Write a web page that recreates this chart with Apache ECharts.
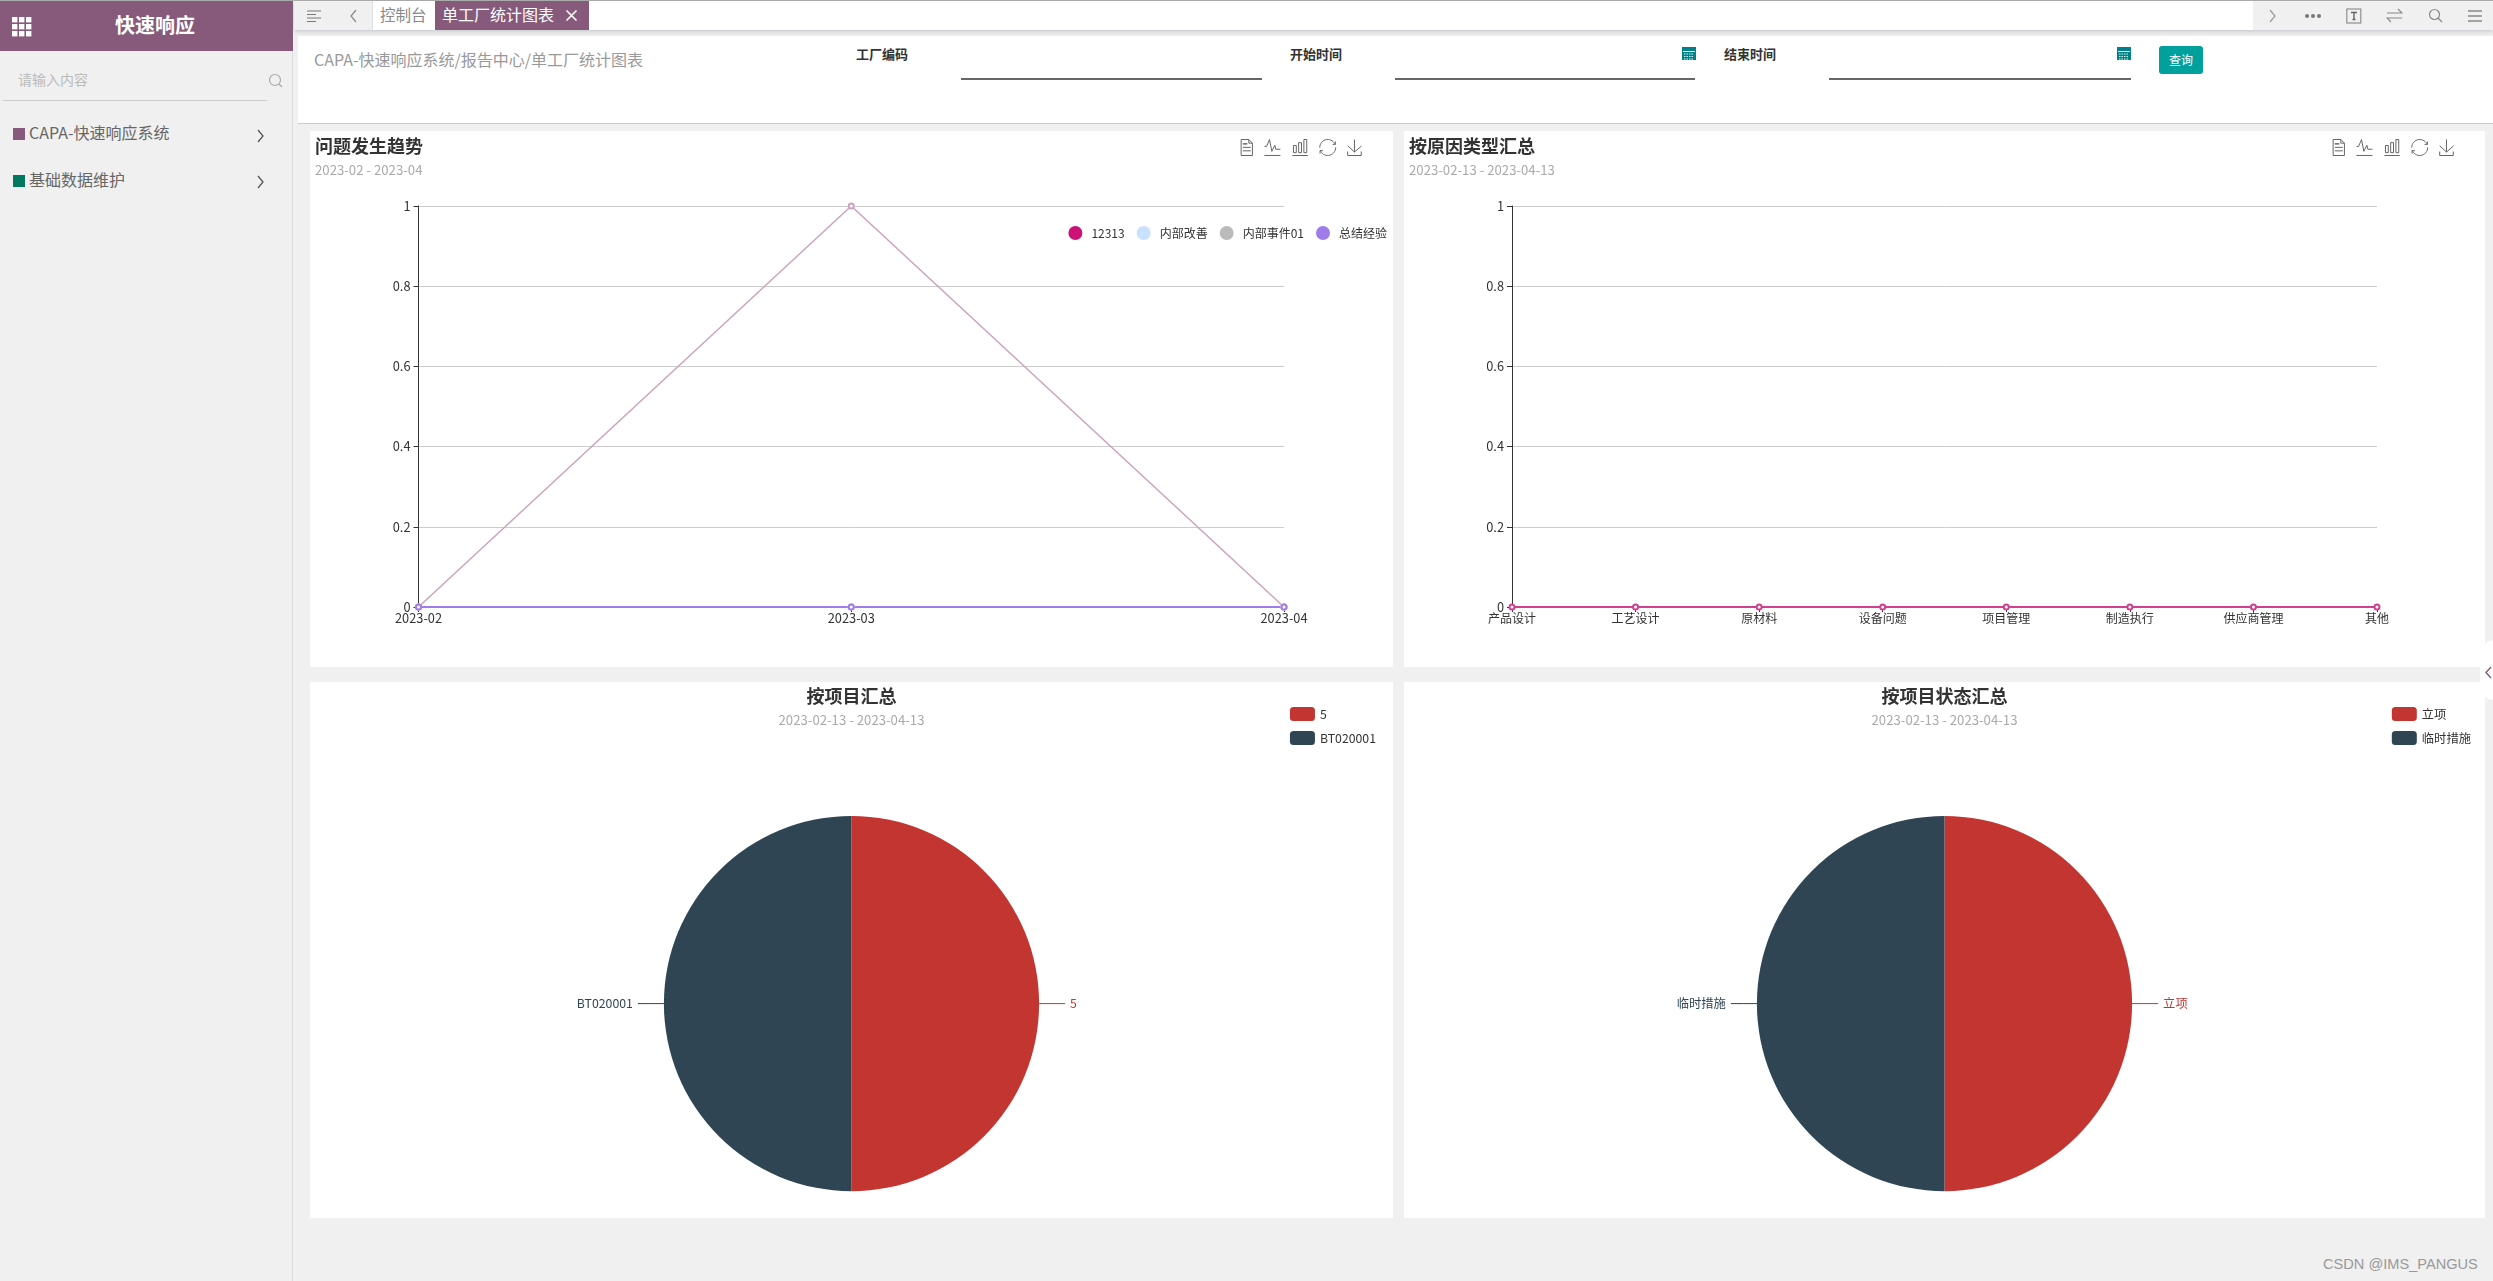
<!DOCTYPE html>
<html lang="zh"><head><meta charset="utf-8"><title>单工厂统计图表</title>
<script src="https://cdn.jsdelivr.net/npm/echarts@6/dist/echarts.min.js"></script>
<style>
html,body{margin:0;padding:0;width:2493px;height:1281px;overflow:hidden;background:#f0f0f0;font-family:"Noto Sans CJK SC","Noto Sans",sans-serif;}
.a{position:absolute;box-sizing:border-box;white-space:nowrap;}
.chart{position:absolute;background:#fff;}
.btn{position:absolute;top:1px;height:29px;background:#f0f0f0;border-right:1px solid #dde1e6;display:flex;align-items:center;justify-content:center;}
svg{display:block;}
</style></head><body>
<div class="a" style="left:0;top:0;width:2493px;height:1px;background:#aaa;z-index:5"></div>
<!-- sidebar -->
<div class="a" style="left:0;top:0;width:293px;height:1281px;background:#f0f0f0;border-right:1px solid #ddd;"></div>
<div class="a" style="left:0;top:1px;width:293px;height:50px;background:#875A7B;"></div>
<svg class="a" style="left:12px;top:17px" width="20" height="20" fill="#fff"><rect x="0" y="0" width="5.4" height="5.4"/><rect x="7" y="0" width="5.4" height="5.4"/><rect x="14" y="0" width="5.4" height="5.4"/><rect x="0" y="7" width="5.4" height="5.4"/><rect x="7" y="7" width="5.4" height="5.4"/><rect x="14" y="7" width="5.4" height="5.4"/><rect x="0" y="14" width="5.4" height="5.4"/><rect x="7" y="14" width="5.4" height="5.4"/><rect x="14" y="14" width="5.4" height="5.4"/></svg>
<div class="a" style="left:115px;top:10px;width:78px;font-size:20px;line-height:30px;font-weight:700;color:#fff;">快速响应</div>
<div class="a" style="left:18px;top:69px;font-size:14px;line-height:20px;color:#bbb;">请输入内容</div>
<svg class="a" style="left:268px;top:73px" width="15" height="15" fill="none" stroke="#aaa" stroke-width="1.2"><circle cx="7" cy="7" r="5.5"/><path d="M11 11l3 3"/></svg>
<div class="a" style="left:3px;top:100px;width:264px;height:1px;background:#ccc;"></div>
<div class="a" style="left:13px;top:128px;width:12px;height:12px;background:#875A7B;"></div>
<div class="a" style="left:29px;top:120px;font-size:16px;line-height:24px;color:#666;">CAPA-快速响应系统</div>
<svg class="a" style="left:256px;top:129px" width="9" height="14" fill="none" stroke="#555" stroke-width="1.3"><path d="M2 1l5 6-5 6"/></svg>
<div class="a" style="left:13px;top:175px;width:12px;height:12px;background:#00785F;"></div>
<div class="a" style="left:29px;top:167px;font-size:16px;line-height:24px;color:#666;">基础数据维护</div>
<svg class="a" style="left:256px;top:175px" width="9" height="14" fill="none" stroke="#555" stroke-width="1.3"><path d="M2 1l5 6-5 6"/></svg>
<!-- tab bar -->
<div class="a" style="left:294px;top:1px;width:2199px;height:29px;background:#fff;box-shadow:0 1px 5px rgba(120,130,140,.45);"></div>
<div class="btn" style="left:294px;width:40px;"><svg width="16" height="14" stroke="#777" stroke-width="1.2"><path d="M1 2h14M1 5.5h9M1 9h14M1 12.5h9"/></svg></div>
<div class="btn" style="left:334px;width:38px;"><svg width="9" height="14" fill="none" stroke="#888" stroke-width="1.2"><path d="M7 1L2 7l5 6"/></svg></div>
<div class="a" style="left:380px;top:2px;font-size:15.5px;line-height:25px;color:#888;">控制台</div>
<div class="a" style="left:435px;top:1px;width:154px;height:29px;background:#875A7B;"></div>
<div class="a" style="left:442px;top:2px;font-size:16px;line-height:25px;color:#fff;">单工厂统计图表</div>
<svg class="a" style="left:565px;top:9px;" width="13" height="13" stroke="#fff" stroke-width="1.6"><path d="M1.5 1.5l10 10M11.5 1.5l-10 10"/></svg>
<div class="btn" style="left:2253px;width:39px;"><svg width="9" height="14" fill="none" stroke="#999" stroke-width="1.2"><path d="M2 1l5 6-5 6"/></svg></div>
<div class="btn" style="left:2292px;width:41px;"><svg width="18" height="6" fill="#777"><circle cx="3" cy="3" r="2"/><circle cx="9" cy="3" r="2"/><circle cx="15" cy="3" r="2"/></svg></div>
<div class="btn" style="left:2333px;width:41px;"><svg width="16" height="16" fill="none" stroke="#888" stroke-width="1.1"><rect x=".8" y="1" width="14" height="14"/><path d="M5 4.5h6M8 4.5v7M6.5 11.5h3" stroke="#666" stroke-width="1.4"/></svg></div>
<div class="btn" style="left:2374px;width:41px;"><svg width="17" height="15" fill="none" stroke="#888" stroke-width="1.2"><path d="M1 5h15l-4-4M16 10H1l4 4"/></svg></div>
<div class="btn" style="left:2415px;width:41px;"><svg width="15" height="15" fill="none" stroke="#888" stroke-width="1.2"><circle cx="6.5" cy="6.5" r="5"/><path d="M10 10l4 4"/></svg></div>
<div class="btn" style="left:2456px;width:37px;border-right:0;"><svg width="16" height="14" stroke="#888" stroke-width="1.3"><path d="M1 2h14M1 7h14M1 12h14"/></svg></div>
<!-- filter panel -->
<div class="a" style="left:298px;top:36px;width:2195px;height:88px;background:#fff;border-bottom:1px solid #ccc;"></div>
<div class="a" style="left:314px;top:47px;font-size:16px;line-height:24px;color:#999;">CAPA-快速响应系统/报告中心/单工厂统计图表</div>
<div class="a" style="left:856px;top:44px;font-size:13px;line-height:20px;font-weight:700;color:#333;">工厂编码</div>
<div class="a" style="left:961px;top:78px;width:301px;height:2px;background:#666;"></div>
<div class="a" style="left:1290px;top:44px;font-size:13px;line-height:20px;font-weight:700;color:#333;">开始时间</div>
<div class="a" style="left:1395px;top:78px;width:300px;height:2px;background:#666;"></div>
<svg class="a" style="left:1682px;top:46px" width="14" height="14"><rect width="14" height="14" y="1" fill="#00808A"/><path d="M1 5.5h12" stroke="#fff"/><path d="M2 8h10M2 10.5h10M2 13h10" stroke="#cfe" stroke-dasharray="1.5 1"/></svg>
<div class="a" style="left:1724px;top:44px;font-size:13px;line-height:20px;font-weight:700;color:#333;">结束时间</div>
<div class="a" style="left:1829px;top:78px;width:302px;height:2px;background:#666;"></div>
<svg class="a" style="left:2117px;top:46px" width="14" height="14"><rect width="14" height="14" y="1" fill="#00808A"/><path d="M1 5.5h12" stroke="#fff"/><path d="M2 8h10M2 10.5h10M2 13h10" stroke="#cfe" stroke-dasharray="1.5 1"/></svg>
<div class="a" style="left:2159px;top:46px;width:44px;height:28px;background:#00A09D;border-radius:3px;color:#fff;font-size:12px;line-height:28px;text-align:center;">查询</div>
<!-- charts -->
<div class="chart" id="c1" style="left:310px;top:131px;width:1083px;height:536px;"></div>
<div class="chart" id="c2" style="left:1404px;top:131px;width:1081px;height:536px;"></div>
<div class="chart" id="c3" style="left:310px;top:682px;width:1083px;height:536px;"></div>
<div class="chart" id="c4" style="left:1404px;top:682px;width:1081px;height:536px;"></div>
<!-- side handle -->
<div class="a" style="left:2480px;top:640px;width:30px;height:60px;background:#fff;border-radius:14px 0 0 14px;"></div>
<svg class="a" style="left:2485px;top:666px" width="7" height="13" fill="none" stroke="#875A7B" stroke-width="1.4"><path d="M6 1L1 6.5l5 5.5"/></svg>
<div class="a" style="left:2323px;top:1254px;font-family:'Liberation Sans',Arial,sans-serif;font-size:14.6px;line-height:20px;color:#999;">CSDN @IMS_PANGUS</div>
<script>
const FONT = '"Noto Sans CJK SC","Noto Sans",sans-serif';

const trendMonths = ['2023-02', '2023-03', '2023-04'];
const trendNames = ['12313', '内部改善', '内部事件01', '总结经验'];
const trendLegendColors = ['#CC1177', '#C9E0FF', '#BBBBBB', '#A07CEB'];
const trendLineColors = ['#CCA3BC', '#C9E0FF', '#BBBBBB', '#A07CEB'];
const trend12313 = [0, 1, 0];
const trendInternal = [0, 0, 0];
const trendEvent = [0, 0, 0];
const trendSummary = [0, 0, 0];

const causeCategories = ['产品设计', '工艺设计', '原材料', '设备问题', '项目管理', '制造执行', '供应商管理', '其他'];
const causeValues = [0, 0, 0, 0, 0, 0, 0, 0];

const projectNames = ['5', 'BT020001'];
const projectValues = [1, 1];
const statusNames = ['立项', '临时措施'];
const statusValues = [1, 1];

const pieColors = ['#C23531', '#2F4554'];

function toolbox() {
  return {
    right: 14, top: -9, itemSize: 16, itemGap: 7,
    iconStyle: { borderColor: '#666', color: 'none' },
    feature: {
      dataView: {},
      magicType: { type: ['line', 'bar'] },
      restore: {},
      saveAsImage: {}
    }
  };
}
function titleLeft(text, sub) {
  return { left: 0, top: 1, text, subtext: sub,
    textStyle: { fontSize: 18, fontWeight: 'bold', color: '#333', fontFamily: FONT },
    subtextStyle: { fontSize: 13.2, color: '#aaa', fontFamily: FONT }, itemGap: 8 };
}
function titleCenter(text, sub) {
  return { left: 'center', top: 0, text, subtext: sub,
    textStyle: { fontSize: 18, fontWeight: 'bold', color: '#333', fontFamily: FONT },
    subtextStyle: { fontSize: 13.2, color: '#aaa', fontFamily: FONT }, itemGap: 8 };
}
function axes(cats, xSize) {
  return {
    xAxis: { type: 'category', boundaryGap: false, data: cats,
      axisLine: { lineStyle: { color: '#333' } }, axisTick: { show: true, lineStyle: { color: '#333' } },
      axisLabel: { color: '#333', fontSize: xSize, fontFamily: FONT, interval: 0, margin: 5 }, splitLine: { show: false } },
    yAxis: { type: 'value', min: 0, max: 1, interval: 0.2,
      axisLine: { show: true, lineStyle: { color: '#333' } }, axisTick: { show: true, lineStyle: { color: '#333' } },
      axisLabel: { color: '#333', fontSize: 12.8, fontFamily: FONT }, splitLine: { lineStyle: { color: '#ccc' } } }
  };
}
function lineSeries(name, data, color, width) {
  return { name, type: 'line', data, symbol: 'emptyCircle', symbolSize: 5,
    itemStyle: { color }, lineStyle: { color, width }, animation: false };
}
function pieOption(title, names, values, legendRight) {
  return {
    animation: false, color: pieColors,
    title: titleCenter(title, '2023-02-13 - 2023-04-13'),
    legend: { orient: 'vertical', right: legendRight, top: 20, itemWidth: 25, itemHeight: 14, itemGap: 10,
      data: names, textStyle: { fontSize: 12.3, color: '#333', fontFamily: FONT } },
    series: [{ type: 'pie', center: ['50%', '60%'], radius: '70%', startAngle: 90,
      label: { fontSize: 12.3, fontFamily: FONT }, labelLine: { length: 13, length2: 13 },
      data: names.map((n, i) => ({ name: n, value: values[i],
        label: { color: pieColors[i] },
        labelLine: { lineStyle: { color: pieColors[i] } } })) }]
  };
}

const c1 = echarts.init(document.getElementById('c1'));
c1.setOption({
  animation: false,
  title: titleLeft('问题发生趋势', '2023-02 - 2023-04'),
  toolbox: toolbox(),
  legend: { right: 1, top: 90, icon: 'circle', itemWidth: 22, itemHeight: 14, itemGap: 12,
    textStyle: { fontSize: 12, color: '#333', fontFamily: FONT },
    data: trendNames.map((n, i) => ({ name: n, itemStyle: { color: trendLegendColors[i] } })) },
  grid: { left: 108.5, right: 109, top: 75, bottom: 60 },
  ...axes(trendMonths, 12.8),
  series: [
    lineSeries(trendNames[0], trend12313, trendLineColors[0], 1.5),
    lineSeries(trendNames[1], trendInternal, trendLineColors[1], 2),
    lineSeries(trendNames[2], trendEvent, trendLineColors[2], 2),
    lineSeries(trendNames[3], trendSummary, trendLineColors[3], 2)
  ]
});

const c2 = echarts.init(document.getElementById('c2'));
c2.setOption({
  animation: false,
  title: titleLeft('按原因类型汇总', '2023-02-13 - 2023-04-13'),
  toolbox: toolbox(),
  grid: { left: 108, right: 108, top: 75, bottom: 60 },
  ...axes(causeCategories, 12),
  series: [lineSeries('12313', causeValues, '#D0408F', 2)]
});

echarts.init(document.getElementById('c3')).setOption(pieOption('按项目汇总', projectNames, projectValues, 12));
echarts.init(document.getElementById('c4')).setOption(pieOption('按项目状态汇总', statusNames, statusValues, 9));
</script>
</body></html>
